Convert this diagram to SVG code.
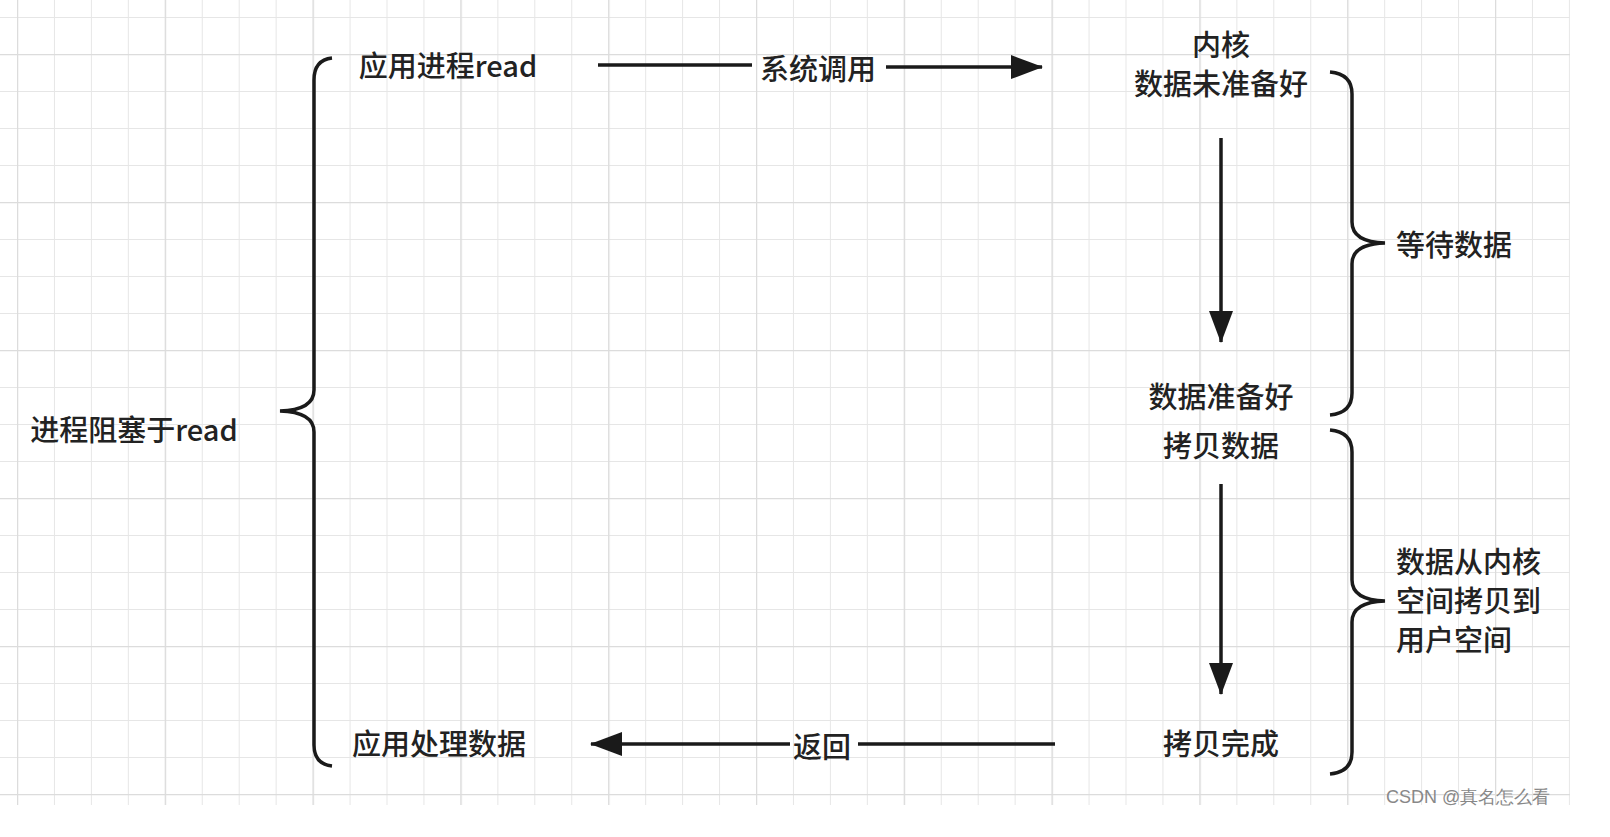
<svg xmlns="http://www.w3.org/2000/svg" width="1610" height="837" viewBox="0 0 1610 837">
<defs>
<pattern id="g" x="17" y="17" width="36.95" height="37" patternUnits="userSpaceOnUse"><path d="M0 0V37M0 0H36.95" stroke="#e6e6e6" stroke-width="2" fill="none"/></pattern>
<pattern id="G" x="17" y="54" width="147.8" height="148" patternUnits="userSpaceOnUse"><path d="M0 0V148M0 0H147.8" stroke="#dcdcdc" stroke-width="2.5" fill="none"/></pattern>
<marker id="a" markerWidth="32" markerHeight="24" refX="31" refY="12" orient="auto" markerUnits="userSpaceOnUse" viewBox="0 0 32 24"><path d="M0 0L32 12L0 24z" fill="#1a1a1a"/></marker>
</defs>
<style>
text{font-family:"Noto Sans CJK SC","Noto Sans",sans-serif;font-size:29px;fill:#222;font-weight:500}
.c{text-anchor:middle}
.l{stroke:#1a1a1a;stroke-width:3.5;fill:none}
.w{font-family:"Liberation Sans",sans-serif;font-size:18px;fill:#888;font-weight:400}
</style>
<rect width="1610" height="837" fill="#fff"/>
<rect x="0" y="0" width="1570" height="805" fill="url(#g)"/>
<rect x="0" y="0" width="1570" height="805" fill="url(#G)"/>
<g id="connectors">
<path class="l" d="M598 65H752"/>
<path class="l" d="M886 67H1042" marker-end="url(#a)"/>
<path class="l" d="M1221 138V342" marker-end="url(#a)"/>
<path class="l" d="M1221 484V694" marker-end="url(#a)"/>
<path class="l" d="M1055 744H858"/>
<path class="l" d="M790 744H591" marker-end="url(#a)"/>
</g>
<g id="brace-left"><path class="l" d="M332 58Q314 60 314 80V390Q314 410 280 411Q314 412 314 432V745Q314 764 332 766"/></g>
<g id="brace-wait"><path class="l" d="M1330 72Q1352 74 1352 94V222Q1352 242 1385 243Q1352 244 1352 264V393Q1352 413 1330 415"/></g>
<g id="brace-copy"><path class="l" d="M1330 430Q1352 432 1352 452V580Q1352 600 1385 601Q1352 602 1352 622V752Q1352 772 1330 774"/></g>
<g id="n1"><text x="448" y="77" class="c">应用进程read</text></g>
<g id="n2"><text x="818" y="80" class="c">系统调用</text></g>
<g id="n3"><text x="1221" y="56" class="c">内核</text><text x="1221" y="95" class="c">数据未准备好</text></g>
<g id="n4"><text x="1221" y="408" class="c">数据准备好</text></g>
<g id="n5"><text x="1221" y="457" class="c">拷贝数据</text></g>
<g id="n6"><text x="1221" y="755" class="c">拷贝完成</text></g>
<g id="n7"><text x="822" y="758" class="c">返回</text></g>
<g id="n8"><text x="439" y="755" class="c">应用处理数据</text></g>
<g id="n9"><text x="134" y="441" class="c">进程阻塞于read</text></g>
<g id="n10"><text x="1396" y="256">等待数据</text></g>
<g id="n11"><text x="1396" y="573">数据从内核</text><text x="1396" y="612">空间拷贝到</text><text x="1396" y="651">用户空间</text></g>
<text x="1386" y="803" class="w">CSDN @真名怎么看</text>
</svg>
